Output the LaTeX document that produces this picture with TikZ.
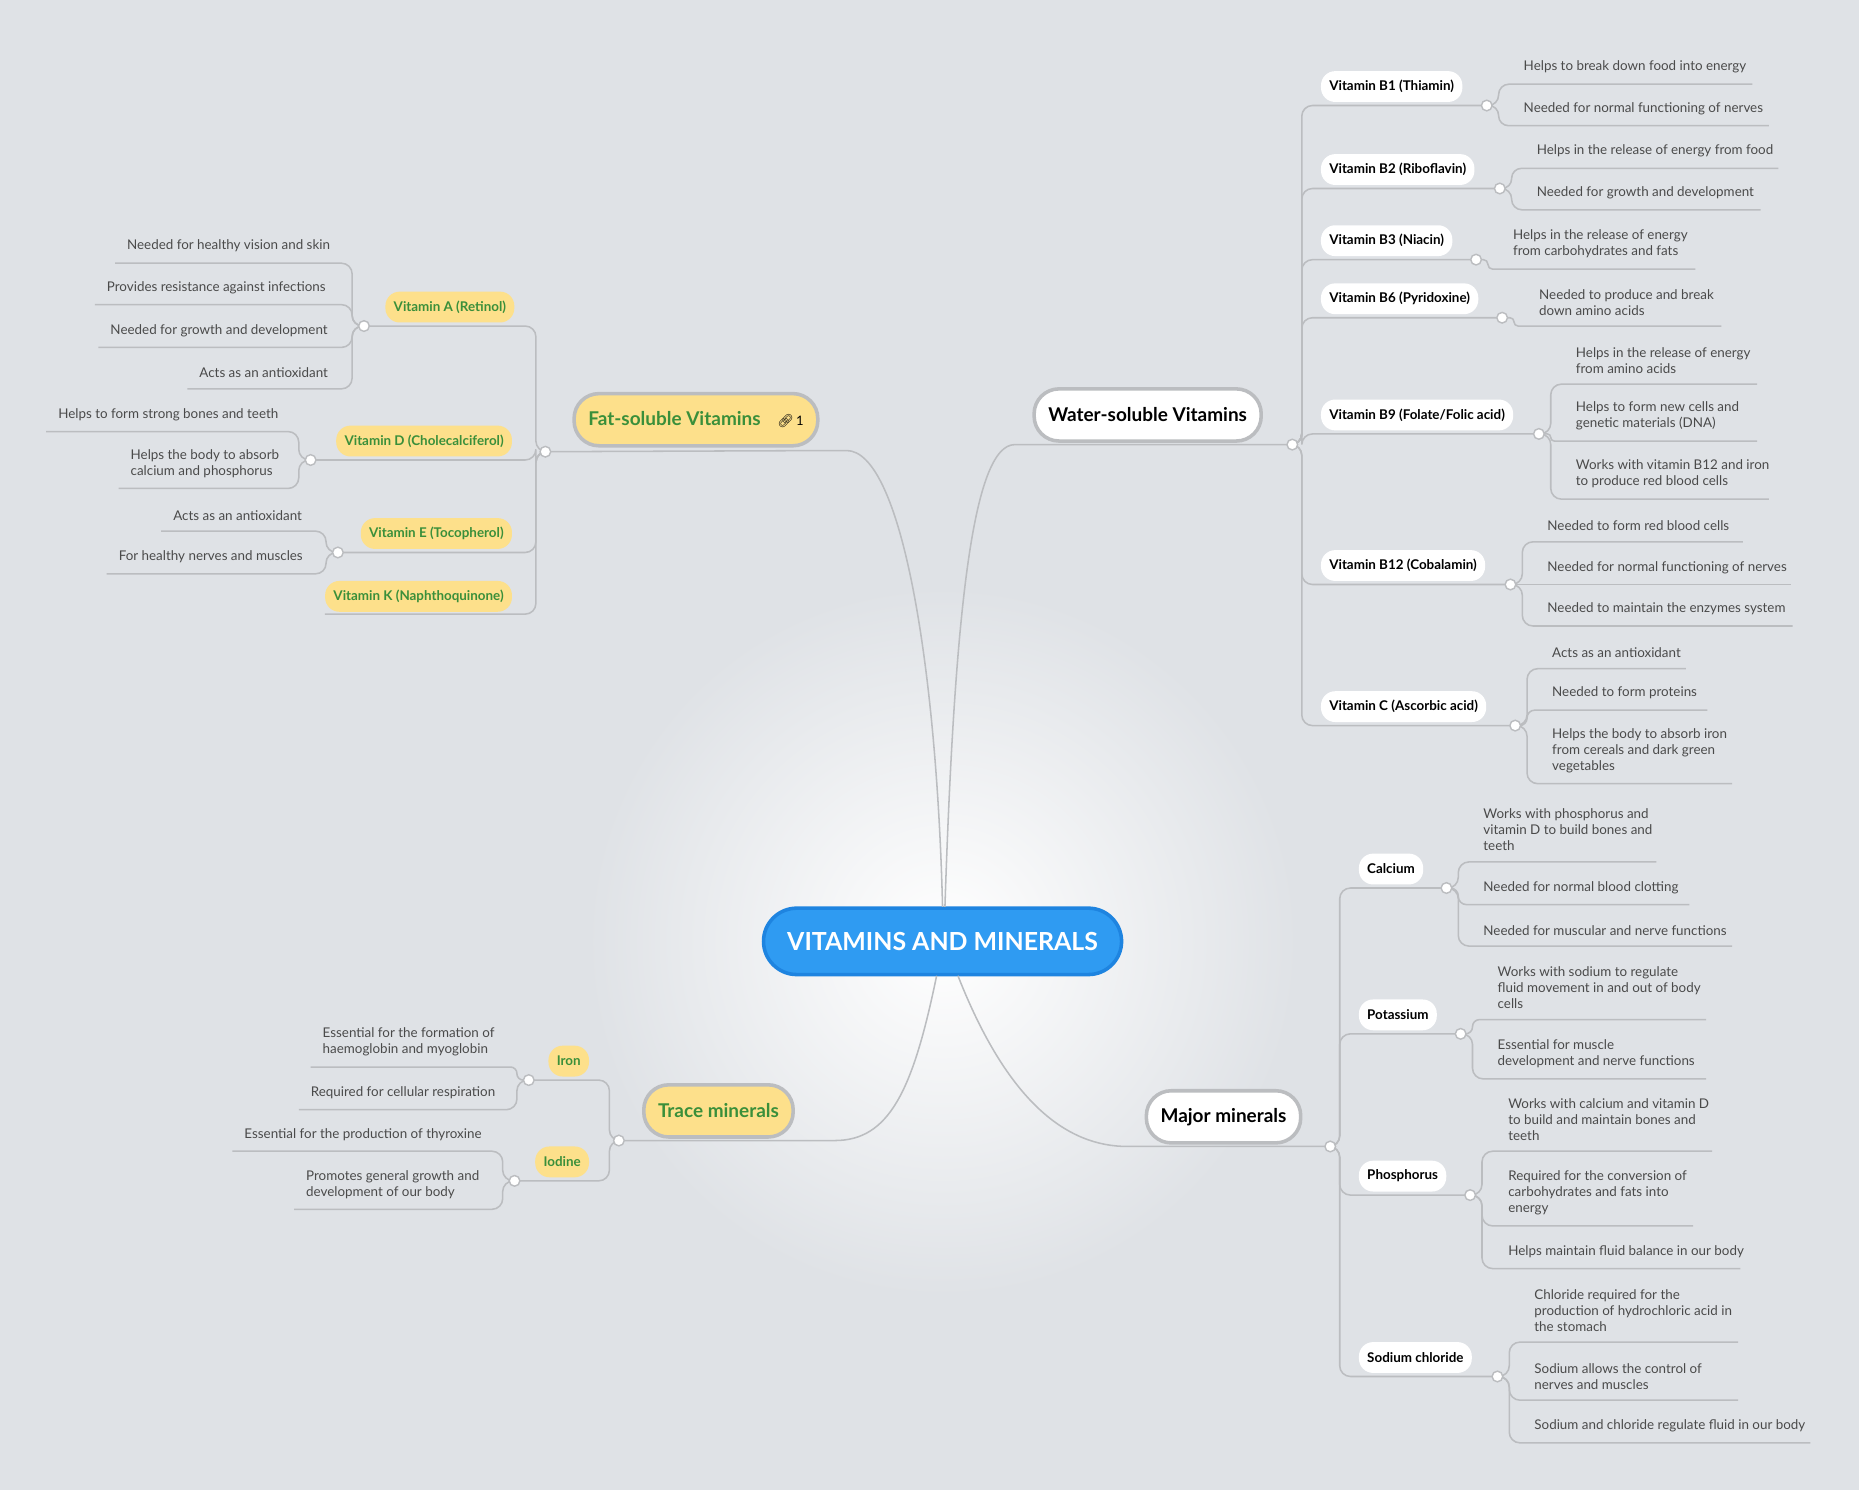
\documentclass[tikz,border=0pt]{standalone}
\usepackage{fontspec}
\setmainfont{Lato}
\newfontfamily\emo{Noto Emoji}
\usetikzlibrary{positioning}
\definecolor{bg}{HTML}{DFE2E6}
\definecolor{ln}{HTML}{BBBDC0}
\definecolor{ylw}{HTML}{FDE08B}
\definecolor{grn}{HTML}{3A8F3A}
\definecolor{txt}{HTML}{4A4A4A}
\definecolor{blu}{HTML}{2F9BF2}
\definecolor{blub}{HTML}{1E84E0}
\pgfdeclarelayer{fg}\pgfsetlayers{main,fg}
\newcounter{lf}
\tikzset{
 conn/.style={draw=ln,line width=1.3pt,rounded corners=9pt},
 leaf/.style={inner sep=0pt,align=left,text=txt,font=\fontsize{11.3}{13.5}\selectfont},
 pillY/.style={fill=ylw,text=grn,rounded corners=12pt,minimum height=26pt,inner xsep=7pt,font=\fontsize{11.3}{13}\selectfont\bfseries},
 pillW/.style={fill=white,text=black,rounded corners=12pt,minimum height=26pt,inner xsep=7pt,font=\fontsize{11.3}{13}\selectfont\bfseries},
 mainY/.style={fill=ylw,text=grn,draw=ln,line width=3pt,rounded corners=21pt,minimum height=44pt,inner xsep=12pt,font=\fontsize{16}{18}\selectfont\bfseries},
 mainW/.style={fill=white,text=black,draw=ln,line width=3pt,rounded corners=21pt,minimum height=44pt,inner xsep=12pt,font=\fontsize{16}{18}\selectfont\bfseries},
 hubcirc/.style={circle,fill=white,draw=ln,line width=1.2pt,minimum size=9pt,inner sep=0pt},
}
\newcommand\radfor[2]{\path (#1); \pgfgetlastxy{\hx}{\hy}%
 \pgfmathsetmacro\rr{min(9,abs(-\hy-#2)/2.05)}}
% right leaf: hub, textx, yline, xend, text
\newcommand\rleaf[5]{\stepcounter{lf}\coordinate (L\arabic{lf}) at (#4,#3);
 \radfor{#1}{#3}%
 \draw[conn,rounded corners=\rr pt] (#1) -- ++(10,0) |- (L\arabic{lf});
 \node[leaf,anchor=south west] (T\arabic{lf}) at (#2,#3-9) {#5};}
% left leaf: hub, xstart, yline, text
\newcommand\lleaf[4]{\stepcounter{lf}\coordinate (L\arabic{lf}) at (#2,#3);
 \radfor{#1}{#3}%
 \draw[conn,rounded corners=\rr pt] (#1) -- ++(-10,0) |- (L\arabic{lf});
 \node[leaf,anchor=south west] (T\arabic{lf}) at (#2+10,#3-9) {#4};}
\newcommand\hubdot[1]{\begin{pgfonlayer}{fg}\node[hubcirc] at (#1) {};\end{pgfonlayer}}
\newcommand\rsub[6]{\coordinate (#1) at (#4,#3+16);
 \draw[conn] (#2) -- ++(8,0) |- (#1);
 \node[#6,anchor=west] (#1p) at (1114,#3) {#5};\hubdot{#1}}
\newcommand\lsub[7]{\coordinate (#1) at (#4,#3+16);
 \draw[conn] (#2) -- ++(-8,0) |- (#1);
 \node[#6,anchor=east] (#1p) at (#7,#3) {#5};\hubdot{#1}}
\begin{document}
\begin{tikzpicture}[x=1pt,y=-1pt]
\fill[bg] (0,0) rectangle (1568,1257);
\useasboundingbox (0,0) rectangle (1568,1257);
\shade[inner color=white,outer color=bg] (795,794) circle (300);

\node[fill=blu,draw=blub,line width=3pt,rounded corners=28pt,minimum width=302pt,minimum height=56pt,text=white,font=\fontsize{21}{24}\selectfont\bfseries] (C) at (795,794) {VITAMINS AND MINERALS};

\coordinate (HF) at (460,381);
\coordinate (HW) at (1090,375);
\coordinate (HT) at (522,962);
\coordinate (HM) at (1122,967);
\coordinate (cF) at (795,765); \coordinate (cW) at (797,765);
\coordinate (cT) at (790,823); \coordinate (cM) at (808,823);
\coordinate (eF) at (705,380); \coordinate (eW) at (865,375);
\coordinate (eT) at (695,962); \coordinate (eM) at (960,967);
\draw[conn] (cF) .. controls (790,560) and (760,380) .. (eF) -- (HF);
\draw[conn] (cW) .. controls (805,520) and (820,375) .. (eW) -- (HW);
\draw[conn] (cT) .. controls (770,920) and (750,962) .. (eT) -- (HT);
\draw[conn] (cM) .. controls (850,930) and (900,967) .. (eM) -- (HM);

\node[mainY] (F) at (587,354) {Fat-soluble Vitamins\hspace{14pt}{\fontsize{11}{12}\selectfont\color{black}\emo 🔗\,\normalfont\mdseries 1}};
\node[mainW] (W) at (968,350) {Water-soluble Vitamins};
\node[mainY] (T) at (606,937) {Trace minerals};
\node[mainW] (M) at (1032,942) {Major minerals};

% ---------- Fat-soluble
\lsub{A}{HF}{259}{307}{Vitamin A (Retinol)}{pillY}{434}
\lleaf{A}{97}{222}{Needed for healthy vision and skin}
\lleaf{A}{80}{257}{Provides resistance against infections}
\lleaf{A}{83}{293}{Needed for growth and development}
\lleaf{A}{158}{328}{Acts as an antioxidant}
\lsub{D}{HF}{372}{262}{Vitamin D (Cholecalciferol)}{pillY}{432}
\lleaf{D}{39}{364}{Helps to form strong bones and teeth}
\lleaf{D}{100}{412}{Helps the body to absorb\\calcium and phosphorus}
\lsub{E}{HF}{450}{285}{Vitamin E (Tocopherol)}{pillY}{432}
\lleaf{E}{136}{448}{Acts as an antioxidant}
\lleaf{E}{90}{484}{For healthy nerves and muscles}
\coordinate (K) at (274,518);
\draw[conn] (HF) -- ++(-8,0) |- (K);
\node[pillY,anchor=east] (Kp) at (432,503) {Vitamin K (Naphthoquinone)};
\hubdot{HF}

% ---------- Water-soluble
\rsub{B1}{HW}{73}{1254}{Vitamin B1 (Thiamin)}{pillW}
\rleaf{B1}{1285}{71}{1478}{Helps to break down food into energy}
\rleaf{B1}{1285}{106}{1492}{Needed for normal functioning of nerves}
\rsub{B2}{HW}{143}{1265}{Vitamin B2 (Riboflavin)}{pillW}
\rleaf{B2}{1296}{142}{1500}{Helps in the release of energy from food}
\rleaf{B2}{1296}{177}{1485}{Needed for growth and development}
\rsub{B3}{HW}{203}{1245}{Vitamin B3 (Niacin)}{pillW}
\rleaf{B3}{1276}{227}{1430}{Helps in the release of energy\\from carbohydrates and fats}
\rsub{B6}{HW}{252}{1267}{Vitamin B6 (Pyridoxine)}{pillW}
\rleaf{B6}{1298}{275}{1452}{Needed to produce and break\\down amino acids}
\rsub{B9}{HW}{350}{1298}{Vitamin B9 (Folate/Folic acid)}{pillW}
\rleaf{B9}{1329}{324}{1482}{Helps in the release of energy\\from amino acids}
\rleaf{B9}{1329}{372}{1482}{Helps to form new cells and\\genetic materials (DNA)}
\rleaf{B9}{1329}{421}{1492}{Works with vitamin B12 and iron\\to produce red blood cells}
\rsub{B12}{HW}{477}{1274}{Vitamin B12 (Cobalamin)}{pillW}
\rleaf{B12}{1305}{457}{1470}{Needed to form red blood cells}
\rleaf{B12}{1305}{493}{1511}{Needed for normal functioning of nerves}
\rleaf{B12}{1305}{528}{1512}{Needed to maintain the enzymes system}
\rsub{VC}{HW}{596}{1278}{Vitamin C (Ascorbic acid)}{pillW}
\rleaf{VC}{1309}{564}{1422}{Acts as an antioxidant}
\rleaf{VC}{1309}{599}{1440}{Needed to form proteins}
\rleaf{VC}{1309}{661}{1461}{Helps the body to absorb iron\\from cereals and dark green\\vegetables}
\hubdot{HW}

% ---------- Major minerals
\newcommand\msub[5]{\coordinate (#1) at (#4,#3+16);
 \draw[conn] (#2) -- ++(8,0) |- (#1);
 \node[pillW,anchor=west] (#1p) at (1146,#3) {#5};\hubdot{#1}}
\msub{Ca}{HM}{733}{1220}{Calcium}
\rleaf{Ca}{1251}{727}{1397}{Works with phosphorus and\\vitamin D to build bones and\\teeth}
\rleaf{Ca}{1251}{763}{1425}{Needed for normal blood clotting}
\rleaf{Ca}{1251}{798}{1461}{Needed for muscular and nerve functions}
\msub{Po}{HM}{856}{1232}{Potassium}
\rleaf{Po}{1263}{860}{1439}{Works with sodium to regulate\\fluid movement in and out of body\\cells}
\rleaf{Po}{1263}{910}{1439}{Essential for muscle\\development and nerve functions}
\msub{Ph}{HM}{992}{1240}{Phosphorus}
\rleaf{Ph}{1272}{971}{1444}{Works with calcium and vitamin D\\to build and maintain bones and\\teeth}
\rleaf{Ph}{1272}{1034}{1428}{Required for the conversion of\\carbohydrates and fats into\\energy}
\rleaf{Ph}{1272}{1070}{1468}{Helps maintain fluid balance in our body}
\msub{Na}{HM}{1145}{1263}{Sodium chloride}
\rleaf{Na}{1294}{1132}{1466}{Chloride required for the\\production of hydrochloric acid in\\the stomach}
\rleaf{Na}{1294}{1181}{1466}{Sodium allows the control of\\nerves and muscles}
\rleaf{Na}{1294}{1217}{1527}{Sodium and chloride regulate fluid in our body}
\hubdot{HM}

% ---------- Trace minerals
\lsub{Fe}{HT}{895}{446}{Iron}{pillY}{497}
\lleaf{Fe}{262}{900}{Essential for the formation of\\haemoglobin and myoglobin}
\lleaf{Fe}{252}{936}{Required for cellular respiration}
\lsub{I}{HT}{980}{434}{Iodine}{pillY}{497}
\lleaf{I}{196}{971}{Essential for the production of thyroxine}
\lleaf{I}{248}{1020}{Promotes general growth and\\development of our body}
\hubdot{HT}
\end{tikzpicture}
\end{document}
